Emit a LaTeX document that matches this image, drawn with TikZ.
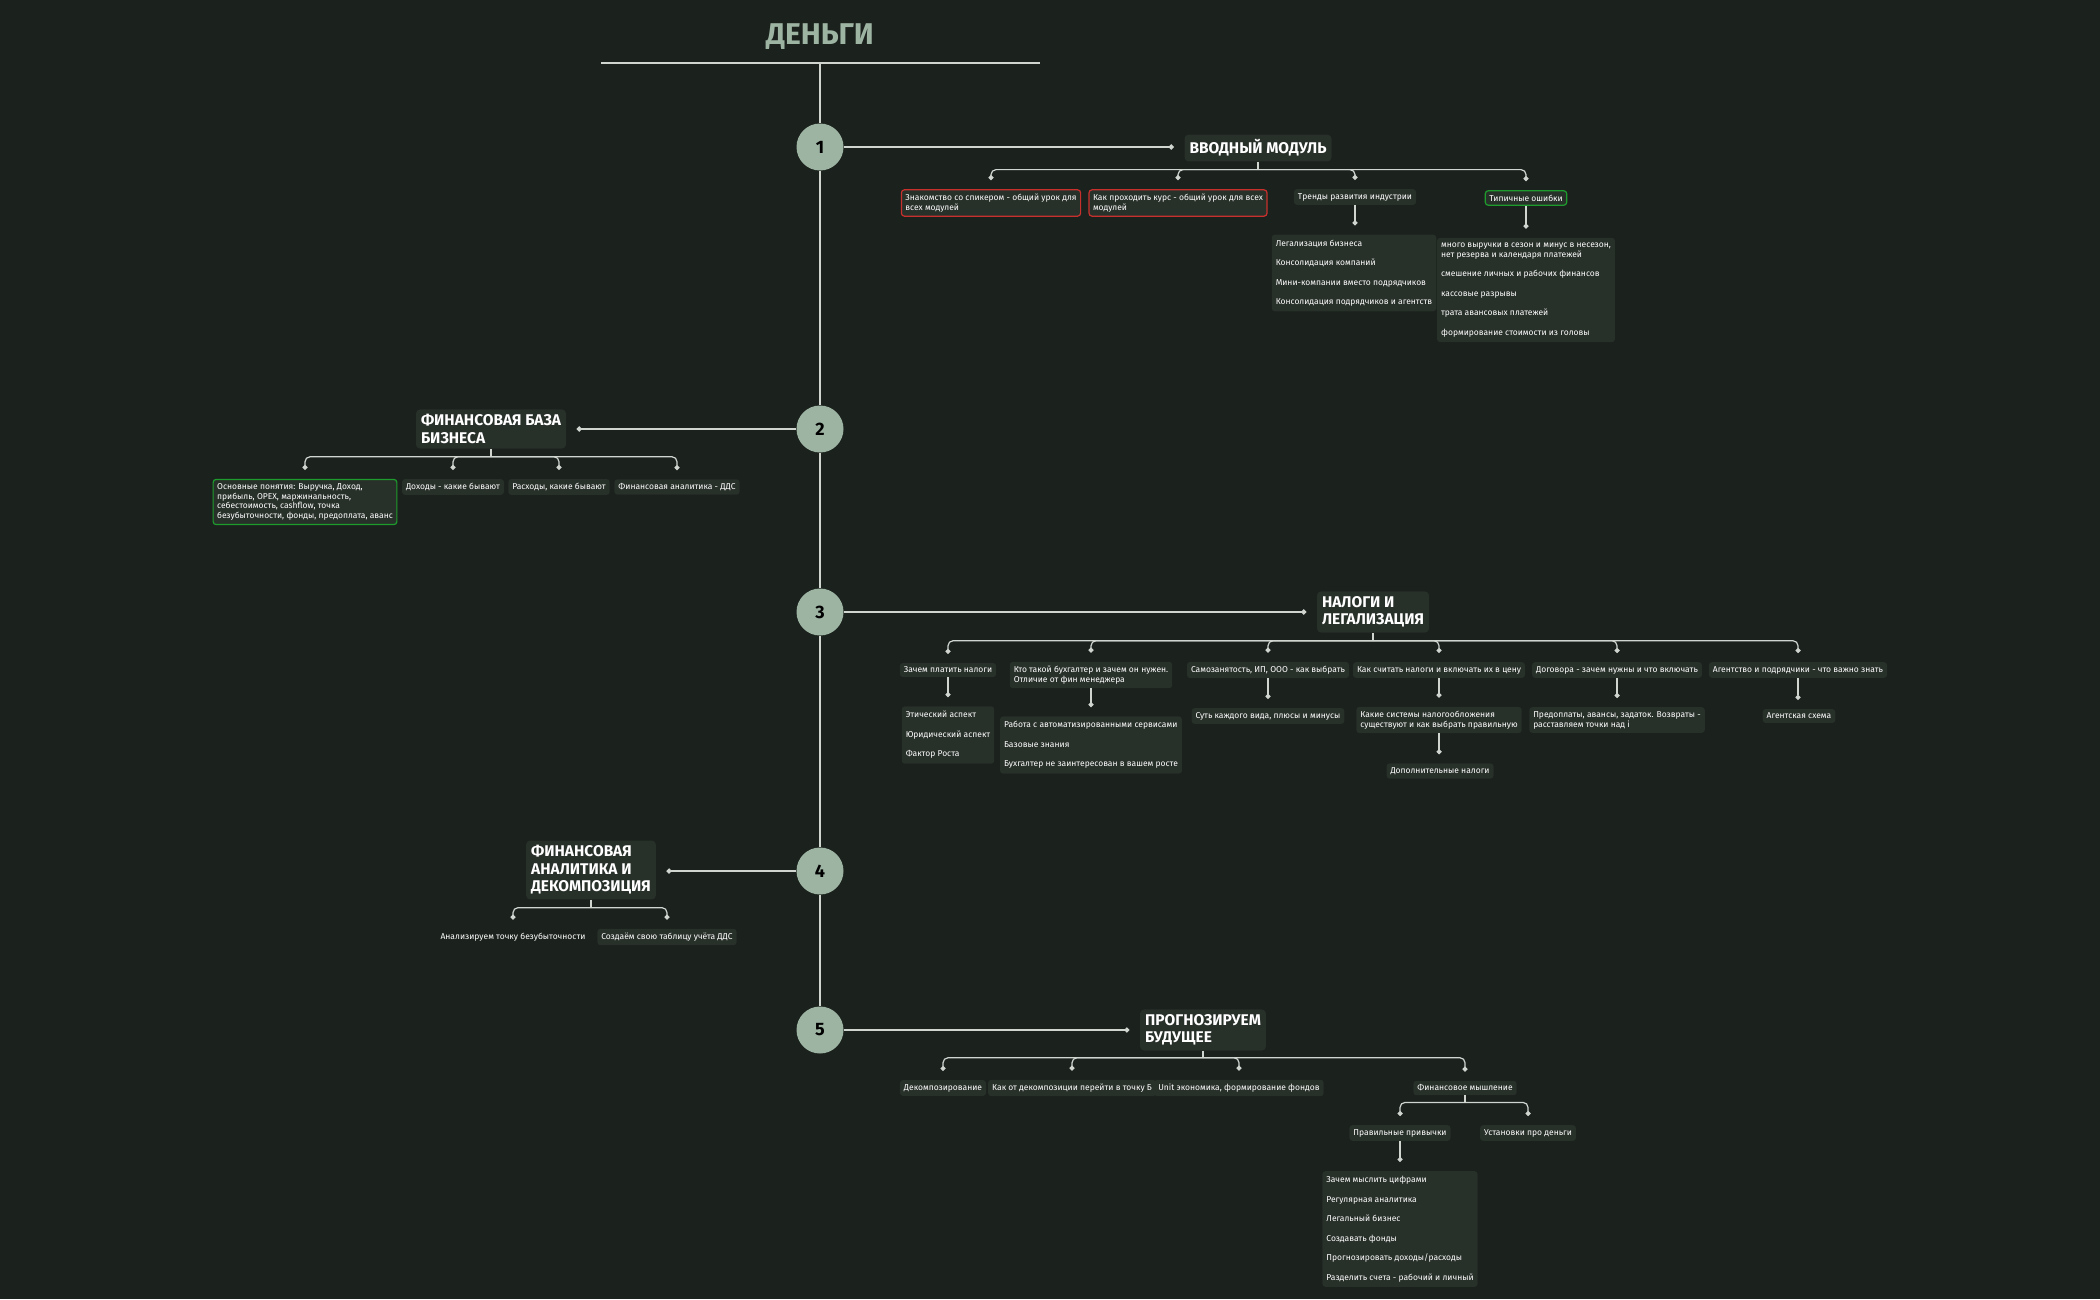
\documentclass[tikz,border=0pt]{standalone}
\usepackage{fontspec}
\setmainfont{Fira Sans}
\usetikzlibrary{arrows.meta}
\definecolor{bgcol}{HTML}{1B211D}
\definecolor{boxcol}{HTML}{28302A}
\definecolor{sage}{HTML}{9DB4A3}
\definecolor{linecol}{HTML}{D0D5D0}
\definecolor{redcol}{HTML}{C8302D}
\definecolor{greencol}{HTML}{1E9B2D}

\begin{document}
\begin{tikzpicture}
[x=1pt, y=-1pt,
every node/.style={text=white, inner sep=4pt},
link/.style={draw=linecol, line width=1.2pt},
dotlink/.style={link, -{Circle[length=5pt]}, shorten >=9pt},
bracket/.style={dotlink, rounded corners=5pt},
spine/.style={draw=linecol, line width=1.6pt},
milestone/.style={circle, fill=sage, minimum size=47pt, inner sep=0pt, text=black, font=\fontsize{18}{18}\selectfont\bfseries},
topic/.style={fill=boxcol, rounded corners=4pt, align=left, inner sep=5pt, font=\fontsize{15.5}{17.5}\selectfont\bfseries},
item/.style={fill=boxcol, rounded corners=3pt, align=left, font=\fontsize{8.5}{10}\selectfont},
listbox/.style={item, inner ysep=5pt},
redbox/.style={item, draw=redcol, line width=1.2pt},
greenbox/.style={item, draw=greencol, line width=1.2pt},
plain/.style={item, fill=none}]
\fill[bgcol] (0,0) rectangle (2100,1299);
\node (title) [text=sage, font=\fontsize{30}{30}\selectfont\bfseries] at (820,37) {ДЕНЬГИ};
\coordinate (ul) at (601,63);
\coordinate (ur) at (1040,63);
\coordinate (top) at (820,63);
\node (n1) [milestone] at (820,147) {1};
\node (n2) [milestone] at (820,429) {2};
\node (n3) [milestone] at (820,612) {3};
\node (n4) [milestone] at (820,871) {4};
\node (n5) [milestone] at (820,1030) {5};
\draw[link] (ul) -- (ur);
\draw[spine] (top) -- (n1) -- (n2) -- (n3) -- (n4) -- (n5);

\node (m1) [topic] at (1258,148) {ВВОДНЫЙ МОДУЛЬ};
\node (m1a) [redbox] at (991,203) {Знакомство со спикером - общий урок для\\всех модулей};
\node (m1b) [redbox] at (1178,203) {Как проходить курс - общий урок для всех\\модулей};
\node (m1c) [item] at (1355,197) {Тренды развития индустрии};
\node (m1d) [greenbox] at (1526,198) {Типичные ошибки};
\node (m1c1) [listbox] at (1354,273) {Легализация бизнеса\\[9.5pt]Консолидация компаний\\[9.5pt]Мини-компании вместо подрядчиков\\[9.5pt]Консолидация подрядчиков и агентств};
\node (m1d1) [listbox] at (1526,290) {много выручки в сезон и минус в несезон,\\нет резерва и календаря платежей\\[9.5pt]смешение личных и рабочих финансов\\[9.5pt]кассовые разрывы\\[9.5pt]трата авансовых платежей\\[9.5pt]формирование стоимости из головы};
\draw[dotlink, shorten >=10.5pt, line width=1.6pt] (n1) -- (n1 -| m1.west);
\draw[link] (m1.south) -- ([yshift=-8pt]m1.south);
\draw[bracket] ([yshift=-8pt]m1.south) -| (m1a.north);
\draw[bracket] ([yshift=-8pt]m1.south) -| (m1b.north);
\draw[bracket] ([yshift=-8pt]m1.south) -| (m1c.north);
\draw[bracket] ([yshift=-8pt]m1.south) -| (m1d.north);
\draw[dotlink] (m1c.south) -- (m1c.south |- m1c1.north);
\draw[dotlink] (m1d.south) -- (m1d.south |- m1d1.north);

\node (m2) [topic] at (491,429) {ФИНАНСОВАЯ БАЗА\\БИЗНЕСА};
\node (m2a) [greenbox, font=\fontsize{8.5}{9.8}\selectfont] at (305,502) {Основные понятия: Выручка, Доход,\\прибыль, OPEX, маржинальность,\\себестоимость, cashflow, точка\\безубыточности, фонды, предоплата, аванс};
\node (m2b) [item] at (453,487) {Доходы - какие бывают};
\node (m2c) [item] at (559,487) {Расходы, какие бывают};
\node (m2d) [item] at (677,487) {Финансовая аналитика - ДДС};
\draw[dotlink, shorten >=10.5pt, line width=1.6pt] (n2) -- (n2 -| m2.east);
\draw[link] (m2.south) -- ([yshift=-8pt]m2.south);
\draw[bracket] ([yshift=-8pt]m2.south) -| (m2a.north);
\draw[bracket] ([yshift=-8pt]m2.south) -| (m2b.north);
\draw[bracket] ([yshift=-8pt]m2.south) -| (m2c.north);
\draw[bracket] ([yshift=-8pt]m2.south) -| (m2d.north);

\node (m3) [topic] at (1373,612) {НАЛОГИ И\\ЛЕГАЛИЗАЦИЯ};
\node (m3a) [item] at (948,670) {Зачем платить налоги};
\node (m3b) [item] at (1091,675) {Кто такой бухгалтер и зачем он нужен.\\Отличие от фин менеджера};
\node (m3c) [item] at (1268,670) {Самозанятость, ИП, ООО - как выбрать};
\node (m3d) [item] at (1439,670) {Как считать налоги и включать их в цену};
\node (m3e) [item] at (1617,670) {Договора - зачем нужны и что включать};
\node (m3f) [item] at (1798,670) {Агентство и подрядчики - что важно знать};
\node (m3a1) [listbox] at (948,735) {Этический аспект\\[9.5pt]Юридический аспект\\[9.5pt]Фактор Роста};
\node (m3b1) [listbox] at (1091,745) {Работа с автоматизированными сервисами\\[9.5pt]Базовые знания\\[9.5pt]Бухгалтер не заинтересован в вашем росте};
\node (m3c1) [item] at (1268,716) {Суть каждого вида, плюсы и минусы};
\node (m3d1) [item] at (1439,720) {Какие системы налогообложения\\существуют и как выбрать правильную};
\node (m3d2) [item] at (1440,771) {Дополнительные налоги};
\node (m3e1) [item] at (1617,720) {Предоплаты, авансы, задаток. Возвраты -\\расставляем точки над i};
\node (m3f1) [item] at (1799,716) {Агентская схема};
\draw[dotlink, shorten >=10.5pt, line width=1.6pt] (n3) -- (n3 -| m3.west);
\draw[link] (m3.south) -- ([yshift=-8pt]m3.south);
\draw[bracket] ([yshift=-8pt]m3.south) -| (m3a.north);
\draw[bracket] ([yshift=-8pt]m3.south) -| (m3b.north);
\draw[bracket] ([yshift=-8pt]m3.south) -| (m3c.north);
\draw[bracket] ([yshift=-8pt]m3.south) -| (m3d.north);
\draw[bracket] ([yshift=-8pt]m3.south) -| (m3e.north);
\draw[bracket] ([yshift=-8pt]m3.south) -| (m3f.north);
\draw[dotlink] (m3a.south) -- (m3a.south |- m3a1.north);
\draw[dotlink] (m3b.south) -- (m3b.south |- m3b1.north);
\draw[dotlink] (m3c.south) -- (m3c.south |- m3c1.north);
\draw[dotlink] (m3d.south) -- (m3d.south |- m3d1.north);
\draw[dotlink] (m3d1.south) -- (m3d1.south |- m3d2.north);
\draw[dotlink] (m3e.south) -- (m3e.south |- m3e1.north);
\draw[dotlink] (m3f.south) -- (m3f.south |- m3f1.north);

\node (m4) [topic] at (591,870) {ФИНАНСОВАЯ\\АНАЛИТИКА И\\ДЕКОМПОЗИЦИЯ};
\node (m4a) [plain] at (513,937) {Анализируем точку безубыточности};
\node (m4b) [item] at (667,937) {Создаём свою таблицу учёта ДДС};
\draw[dotlink, shorten >=10.5pt, line width=1.6pt] (n4) -- (n4 -| m4.east);
\draw[link] (m4.south) -- ([yshift=-8pt]m4.south);
\draw[bracket] ([yshift=-8pt]m4.south) -| (m4a.north);
\draw[bracket] ([yshift=-8pt]m4.south) -| (m4b.north);

\node (m5) [topic] at (1203,1030) {ПРОГНОЗИРУЕМ\\БУДУЩЕЕ};
\node (m5a) [item] at (943,1088) {Декомпозирование};
\node (m5b) [item] at (1072,1088) {Как от декомпозиции перейти в точку Б};
\node (m5c) [item] at (1239,1088) {Unit экономика, формирование фондов};
\node (m5d) [item] at (1465,1088) {Финансовое мышление};
\node (m5d1) [item] at (1400,1133) {Правильные привычки};
\node (m5d2) [item] at (1528,1133) {Установки про деньги};
\node (m5d3) [listbox] at (1400,1229) {Зачем мыслить цифрами\\[9.5pt]Регулярная аналитика\\[9.5pt]Легальный бизнес\\[9.5pt]Создавать фонды\\[9.5pt]Прогнозировать доходы/расходы\\[9.5pt]Разделить счета - рабочий и личный};
\draw[dotlink, shorten >=10.5pt, line width=1.6pt] (n5) -- (n5 -| m5.west);
\draw[link] (m5.south) -- ([yshift=-7pt]m5.south);
\draw[bracket] ([yshift=-7pt]m5.south) -| (m5a.north);
\draw[bracket] ([yshift=-7pt]m5.south) -| (m5b.north);
\draw[bracket] ([yshift=-7pt]m5.south) -| (m5c.north);
\draw[bracket] ([yshift=-7pt]m5.south) -| (m5d.north);
\draw[link] (m5d.south) -- ([yshift=-7pt]m5d.south);
\draw[bracket] ([yshift=-7pt]m5d.south) -| (m5d1.north);
\draw[bracket] ([yshift=-7pt]m5d.south) -| (m5d2.north);
\draw[dotlink] (m5d1.south) -- (m5d1.south |- m5d3.north);
\end{tikzpicture}
\end{document}
